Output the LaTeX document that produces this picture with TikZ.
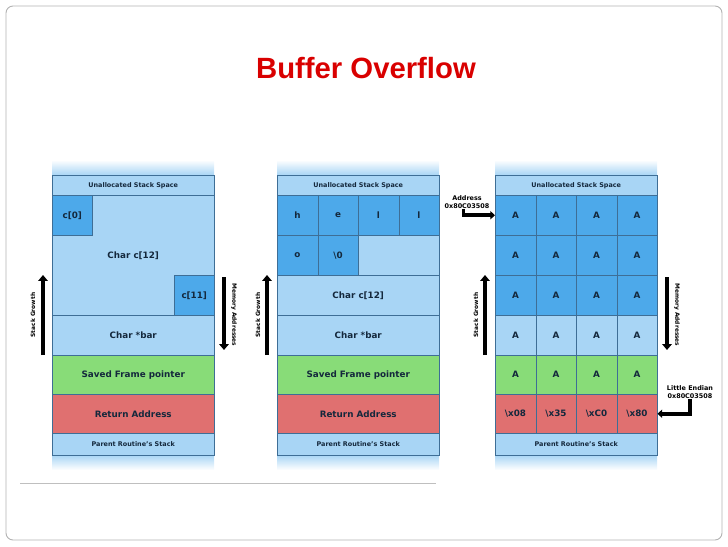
\documentclass[tikz,border=0pt]{standalone}
\usepackage{fontspec}
\setmainfont{DejaVu Sans}
\newfontfamily\titlefont{Liberation Sans}
\usetikzlibrary{arrows.meta,positioning}

\definecolor{lblue}{HTML}{A8D5F5}
\definecolor{dblue}{HTML}{4DA9EA}
\definecolor{lgreen}{HTML}{88DC78}
\definecolor{lred}{HTML}{E07070}
\definecolor{edge}{HTML}{3E6E96}
\definecolor{ttext}{HTML}{14283C}

\tikzset{
  cell/.style={draw=edge, line width=0.4pt, anchor=north west, inner sep=0pt,
    text=ttext, font=\bfseries\fontsize{7.5}{8}\selectfont},
  growarrow/.style={line width=3.2pt, -{Triangle[width=8pt,length=5pt]}},
  side/.style={font=\bfseries\fontsize{5}{6}\selectfont, inner sep=0pt},
  elbow/.style={line width=3pt, -{Triangle[width=7pt,length=4pt]}}
}
\newcommand{\stacklabelsize}{\fontsize{5.5}{6}\selectfont}

% one cell of the stack, (x,y) top left in px, width and height in px
\newcommand{\cellbox}[7]{%
  \node[cell, fill=#5, minimum width=#3*0.03cm, minimum height=#4*0.03cm] (#7) at (#1,#2) {#6};}

% the whole frame of one stack, (x) left edge in px
\newcommand{\stackframe}[2]{%
  \shade[top color=white, bottom color=lblue] (#1,160) rectangle ++(162,15);
  \shade[top color=lblue, bottom color=white] (#1,455) rectangle ++(162,15);
  \cellbox{#1}{175}{162}{20}{lblue}{\stacklabelsize Unallocated Stack Space}{#2top}
  \cellbox{#1}{433}{162}{22}{lblue}{\stacklabelsize Parent Routine's Stack}{#2parent}
}

\begin{document}
\begin{tikzpicture}[x=0.03cm, y=-0.03cm]
\useasboundingbox (0,0) rectangle (728,546);

% la cornice della slide
\draw[gray!60, rounded corners=6pt, line width=0.8pt] (6,6) rectangle (722,540);
\draw[gray!50, line width=0.6pt] (20,483) -- (436,483);
\node[font=\titlefont\bfseries\fontsize{25}{28}\selectfont, text=red!85!black] (title) at (366,68) {Buffer Overflow};

% primo stack
\stackframe{52}{a}
\cellbox{52}{195}{162}{120}{lblue}{Char c[12]}{abuf}
\cellbox{52}{195}{40}{40}{dblue}{c[0]}{afirst}
\cellbox{174}{275}{40}{40}{dblue}{c[11]}{alast}
\cellbox{52}{315}{162}{40}{lblue}{Char *bar}{abar}
\cellbox{52}{355}{162}{39}{lgreen}{Saved Frame pointer}{aframe}
\cellbox{52}{394}{162}{39}{lred}{Return Address}{aret}

% secondo stack
\stackframe{277}{b}
\foreach \t [count=\i from 0] in {h,e,l,l} {
  \cellbox{277+\i*40.5}{195}{40.5}{40}{dblue}{\t}{bc\i}
}
\cellbox{277}{235}{162}{40}{lblue}{}{brow}
\cellbox{277}{235}{40.5}{40}{dblue}{o}{bo}
\cellbox{317.5}{235}{40.5}{40}{dblue}{\textbackslash 0}{bnull}
\cellbox{277}{275}{162}{40}{lblue}{Char c[12]}{bbuf}
\cellbox{277}{315}{162}{40}{lblue}{Char *bar}{bbar}
\cellbox{277}{355}{162}{39}{lgreen}{Saved Frame pointer}{bframe}
\cellbox{277}{394}{162}{39}{lred}{Return Address}{bret}

% terzo stack
\stackframe{495}{c}
\foreach \r/\y/\h/\col in {1/195/40/dblue, 2/235/40/dblue, 3/275/40/dblue, 4/315/40/lblue, 5/355/39/lgreen} {
  \foreach \i in {0,...,3} {
    \cellbox{495+\i*40.5}{\y}{40.5}{\h}{\col}{A}{cc\r\i}
  }
}
\foreach \t [count=\i from 0] in {\textbackslash x08,\textbackslash x35,\textbackslash xC0,\textbackslash x80} {
  \cellbox{495+\i*40.5}{394}{40.5}{39}{lred}{\t}{cr\i}
}

% frecce di crescita
\foreach \xa/\xb/\xc/\xd/\n in {43/33/224/234/a, 267/258/-1/-1/b, 485/476/667/677/c} {
  \coordinate (\n g1) at (\xa,355);
  \coordinate (\n g2) at (\xa,275);
  \draw[growarrow] (\n g1) -- (\n g2);
  \node[side, rotate=90] (\n glab) at (\xb,315) {Stack Growth};
  \ifnum\xc>0
    \coordinate (\n m1) at (\xc,277);
    \coordinate (\n m2) at (\xc,350);
    \draw[growarrow] (\n m1) -- (\n m2);
    \node[side, rotate=-90] (\n mlab) at (\xd,315) {Memory Addresses};
  \fi
}

% indirizzi
\node[side, align=center, font=\bfseries\fontsize{5.5}{7}\selectfont] (addr) at (467,202) {Address\\0x80C03508};
\draw[elbow] ([xshift=-3pt]addr.south) |- (cc10.west);
\node[side, align=center, font=\bfseries\fontsize{5.5}{7}\selectfont] (endian) at (690,392) {Little Endian\\0x80C03508};
\draw[elbow] (endian.south) |- (cr3.east);
\end{tikzpicture}
\end{document}
